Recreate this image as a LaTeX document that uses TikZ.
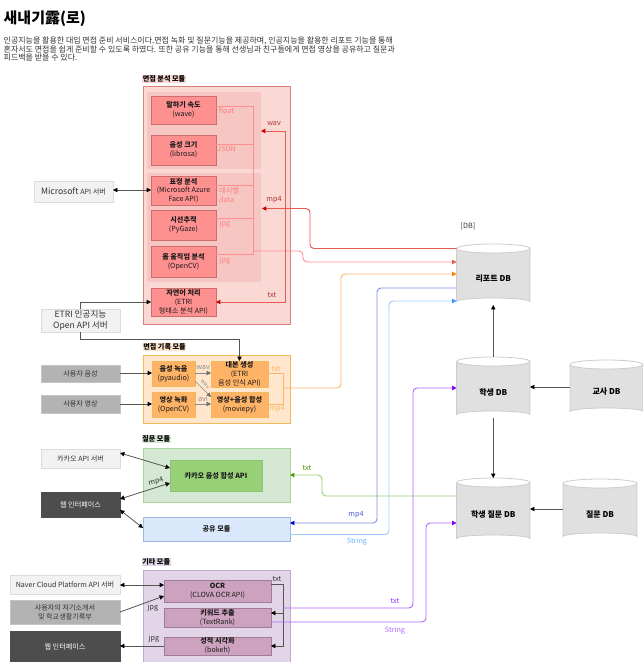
\documentclass[tikz,border=0pt]{standalone}
\usepackage{fontspec}
\setmainfont{Noto Sans CJK KR}
\usetikzlibrary{arrows.meta}
\definecolor{txtc}{HTML}{1A1A1A}
\tikzset{
 x=1pt,y=-1pt,
 bx/.style={inner sep=0pt,outer sep=0pt,align=center,font=\fontsize{7.1}{8.7}\selectfont,text=txtc,line width=.8pt},
 bt/.style={font=\fontsize{8}{10}\selectfont\bfseries},
 lab/.style={inner sep=0pt,font=\fontsize{7.2}{8.4}\selectfont},
 hd/.style={inner sep=.6pt,anchor=west,font=\fontsize{7.1}{8}\selectfont\bfseries,text=black},
 mR/.style={bx,fill=rmodf,draw=rmods},
 gR/.style={bx,fill=rgrp},
 bR/.style={bx,fill=rbox,draw=rboxs},
 mO/.style={bx,fill=omodf,draw=omods},
 bO/.style={bx,fill=obox,draw=omods},
 mG/.style={bx,fill=gmodf,draw=gmods},
 bG/.style={bx,fill=gbox,draw=gboxs},
 mB/.style={bx,fill=bmodf,draw=bmods},
 mP/.style={bx,fill=pmodf,draw=pmods},
 bP/.style={bx,fill=pbox,draw=pboxs},
 lg/.style={bx,fill=lgf,draw=lgs,text=dgt},
 lgb/.style={lg,font=\fontsize{8.6}{10.6}\selectfont},
 mg/.style={bx,fill=mgf,draw=mgs,text=dgt},
 dk/.style={bx,fill=dkf,draw=dkf,text=white},
 tip/.style={-{Triangle[length=4.4pt,width=4.4pt,color=#1,fill=#1]}},
 tips/.style={{Triangle[length=4.4pt,width=4.4pt,color=black,fill=black]}-{Triangle[length=4.4pt,width=4.4pt,color=black,fill=black]}},
 ga/.style={draw=arrg,line width=.8pt,tip=black},
 gb/.style={draw=arrg,line width=.8pt,tips},
 gl/.style={draw=lgarr,line width=.7pt,tip=lgarrt},
 con/.style={line width=.95pt,rounded corners=4pt},
}
\definecolor{rmodf}{HTML}{FAD9D5}\definecolor{rmods}{HTML}{D9827A}
\definecolor{rgrp}{HTML}{F5C6C2}\definecolor{rbox}{HTML}{FF9090}\definecolor{rboxs}{HTML}{CC6E6E}
\definecolor{omodf}{HTML}{FFE6CC}\definecolor{omods}{HTML}{F0B95A}\definecolor{obox}{HTML}{FFB366}
\definecolor{gmodf}{HTML}{D5E8D4}\definecolor{gmods}{HTML}{A9D59B}\definecolor{gbox}{HTML}{97D077}\definecolor{gboxs}{HTML}{8CC277}
\definecolor{bmodf}{HTML}{DAE8FC}\definecolor{bmods}{HTML}{9DB8DE}
\definecolor{pmodf}{HTML}{E1D5E7}\definecolor{pmods}{HTML}{C3A9D0}\definecolor{pbox}{HTML}{CDA2BE}\definecolor{pboxs}{HTML}{A07A96}
\definecolor{lgf}{HTML}{F2F2F2}\definecolor{lgs}{HTML}{DCDCDC}\definecolor{mgf}{HTML}{B3B3B3}\definecolor{mgs}{HTML}{C4C4C4}
\definecolor{dkf}{HTML}{4D4D4D}\definecolor{dgt}{HTML}{333333}\definecolor{arrg}{HTML}{555555}
\definecolor{lgarr}{HTML}{8A8A8A}\definecolor{lgarrt}{HTML}{707070}
\definecolor{pinkl}{HTML}{FF8F8F}\definecolor{pinkt}{HTML}{FF8080}\definecolor{redl}{HTML}{EA5A55}\definecolor{redt}{HTML}{D00000}\definecolor{redx}{HTML}{B03030}
\definecolor{orgl}{HTML}{FFB366}\definecolor{orgt}{HTML}{FF8000}
\definecolor{bluel}{HTML}{7F8FE6}\definecolor{bluet}{HTML}{0000CC}\definecolor{bluex}{HTML}{4D5BD1}
\definecolor{skyl}{HTML}{99CCFF}\definecolor{skyt}{HTML}{3399FF}\definecolor{skyx}{HTML}{66B2FF}
\definecolor{grnl}{HTML}{97D077}\definecolor{grnt}{HTML}{4D9900}
\definecolor{purl}{HTML}{B266FF}\definecolor{purt}{HTML}{7F00FF}\definecolor{purx}{HTML}{9933FF}
\definecolor{dbf}{HTML}{E0E0E0}\definecolor{dbs}{HTML}{CCCCCC}
\newcommand\bxx[7]{\node[#2,minimum width={(#5-#3)*1pt},minimum height={(#6-#4)*1pt}] (#1) at ({(#3+#5)/2},{(#4+#6)/2}) {#7};}
\newcommand\dbc[6]{%
 \node[bx,minimum width={(#4-#2)*1pt},minimum height={(#5-#3)*1pt}] (#1) at ({(#2+#4)/2},{(#3+#5)/2}) {};
 \fill[dbf,draw=dbs,line width=.8pt] (#2,#3+4.5) -- (#2,#5-3.5) arc[x radius={(#4-#2)/2},y radius=3.5,start angle=180,end angle=360,] -- (#4,#3+4.5) arc[x radius={(#4-#2)/2},y radius=4.5,start angle=0,end angle=180];
 \draw[dbs,line width=.8pt] (#2,#3+4.5) arc[x radius={(#4-#2)/2},y radius=4.5,start angle=180,end angle=360];
 \node[bx,bt,text=black] (#1t) at ({(#2+#4)/2},{(#3+#5)/2+4.5}) {#6};}
\begin{document}
\begin{tikzpicture}
\useasboundingbox (0,0) rectangle (643,662);
\fill[white] (0,0) rectangle (643,662);
% title & text
\node[inner sep=0pt,anchor=west,font=\fontsize{15}{16}\selectfont\bfseries,text=black] (title) at (3.5,18.5) {새내기露(로)};
\node[inner sep=0pt,anchor=north west,align=left,font=\fontsize{7.98}{8.5}\selectfont,text=dgt] (intro) at (3.5,37) {인공지능을 활용한 대입 면접 준비 서비스이다.면접 녹화 및 질문기능을 제공하며, 인공지능을 활용한 리포트 기능을 통해\\혼자서도 면접을 쉽게 준비할 수 있도록 하였다. 또한 공유 기능을 통해 선생님과 친구들에게 면접 영상을 공유하고 질문과\\피드백을 받을 수 있다.};
% red module
\node[hd,fill=rmodf] (hR) at (142,79) {면접 분석 모듈};
\bxx{mRm}{mR}{143}{86}{290}{324}{}
\bxx{gR1}{gR}{147}{92}{261}{169}{}
\bxx{gR2}{gR}{147}{173}{261}{282}{}
% DBs
\dbc{dbR}{456.5}{244}{530}{305}{리포트 DB}
\dbc{dbS}{456.5}{357}{530}{418}{학생 DB}
\dbc{dbT}{570}{360}{643}{415}{교사 DB}
\dbc{dbQ}{456.5}{478}{530}{542}{학생 질문 DB}
\dbc{dbA}{563}{479}{637}{540}{질문 DB}
\node[lab,text=dgt] (dbl) at (468,226) {[DB]};
% red boxes
\bxx{b1}{bR}{151}{96}{216}{124}{{\bfseries 말하기 속도}\\(wave)}
\bxx{b2}{bR}{151}{135}{216}{165}{{\bfseries 음성 크기}\\(librosa)}
\bxx{b3}{bR}{151}{176}{216}{205}{{\bfseries 표정 분석}\\(Microsoft Azure\\Face API)}
\bxx{b4}{bR}{151}{210}{216}{240}{{\bfseries 시선추적}\\(PyGaze)}
\bxx{b5}{bR}{151}{246}{216}{277}{{\bfseries 몸 움직임 분석}\\(OpenCV)}
\bxx{b6}{bR}{151}{288}{216}{316}{{\bfseries 자연어 처리}\\(ETRI\\형태소 분석 API)}
% pink bus
\coordinate (bus) at (253,251);
\draw[pinkl,line width=.8pt] (b1.east |- 0,106) -| (253,254) -- (b5.east |- 0,254);
\draw[pinkl,line width=.8pt] (b2.east |- 0,144) -- (253,144) (b3.east |- 0,185.5) -- (253,185.5) (b4.east |- 0,218) -- (253,218);
\draw[pinkl,con,tip=redl] (bus) -- (303,251) -- (303,262) -- (dbR.west |- 0,262);
\draw[redl,con,tip=redt] (dbR.west |- 0,248.5) -- (310,248.5) -- (310,208.5) -- (262,208.5);
\coordinate (rt) at (261,131);
\draw[redl,line width=.95pt,tip=redt] (285.5,131) -- (rt);
\draw[redl,line width=.95pt,tip=redt] (285.5,131) -- (285.5,302) -- (b6.east |- 0,302);
\foreach \n/\t/\xx/\yy in {la/float/226.5/111,lb/JSON/226.5/149,lc/jpg/225/224,ld/jpg/225/261} \node[lab,text=pinkt] (\n) at (\xx,\yy) {\t};
\node[lab,text=pinkt,align=left,anchor=west] (le) at (219,195) {데시벨\\data};
\node[lab,text=redx] (lw) at (274,124) {wav};
\node[lab,text=redx] (lm) at (274,200) {mp4};
\node[lab,text=redx] (lt) at (272,295) {txt};
% ext boxes top
\bxx{ms}{lg}{34}{181}{113}{202}{\fontsize{8.6}{10}\selectfont Microsoft {\fontsize{7.1}{8}\selectfont API 서버}}
\bxx{etri}{lgb}{41}{309}{120}{332}{ETRI 인공지능\\Open API 서버}
\draw[gb] (ms.east |- 0,190) -- (b3.west |- 0,190);
\draw[ga] (etri.north) |- (b6.west |- 0,302);
% orange module
\node[hd,fill=omodf] (hO) at (142.5,347) {면접 기록 모듈};
\bxx{mOm}{mO}{143}{355}{290}{423}{}
\bxx{o1}{bO}{152}{361}{195}{386}{{\bfseries 음성 녹음}\\(pyaudio)}
\bxx{o2}{bO}{211}{361}{268}{387}{{\bfseries 대본 생성}\\(ETRI\\음성 인식 API)}
\bxx{o3}{bO}{152}{392}{195}{417}{{\bfseries 영상 녹화}\\(OpenCV)}
\bxx{o4}{bO}{211}{392}{268}{417}{{\bfseries 영상+음성 합성}\\(moviepy)}
\bxx{u1}{mg}{41}{365}{120}{382}{사용자 음성}
\bxx{u2}{mg}{41}{395}{120}{413}{사용자 영상}
\draw[ga] (u1.east |- 0,373) -- (o1.west |- 0,373);
\draw[ga] (u2.east |- 0,404) -- (o3.west |- 0,404);
\draw[ga] (etri.south) |- (o2.north |- 0,339) -- (o2.north);
\draw[gl] (o1.east |- 0,373) -- (o2.west |- 0,373);
\draw[gl] (o3.east |- 0,404) -- (o4.west |- 0,404);
\draw[gl] (o1.east |- 0,381) -- (o4.west |- 0,397);
\node[lab,text=lgarr] (lwv) at (203,367.5) {wav};
\node[lab,text=lgarr] (lav) at (203,399) {avi};
\node[lab,text=lgarr,rotate=-45,font=\fontsize{5.5}{6}\selectfont] (lwd) at (205,384.5) {wav};
\draw[orgl,line width=.95pt] (o2.east |- 0,373) -- (283.5,373) -- (283.5,404) -- (o4.east |- 0,404);
\draw[orgl,con,tip=orgt] (283.5,388) -- (341,388) -- (341,274) -- (dbR.west |- 0,274);
\node[lab,text=orgl] (lox) at (276,369) {txt};
\node[lab,text=orgl] (lom) at (277,409) {mp4};
% green module
\node[hd,fill=gmodf] (hG) at (141.5,439) {질문 모듈};
\bxx{mGm}{mG}{143}{448}{290}{502}{}
\bxx{kk}{bG}{170}{460}{262}{491}{\bfseries 카카오 음성 합성 API}
\bxx{kas}{lg}{41}{449}{120}{468}{카카오 API 서버}
\bxx{web}{dk}{41}{492}{120}{517}{웹 인터페이스}
\bxx{sh}{mB}{143}{517}{290}{541}{\bfseries 공유 모듈}
\draw[gb] (kas.east |- 0,453) -- (kk.west |- 0,468);
\draw[gb] (kk.west |- 0,483) -- (web.east |- 0,499);
\draw[gb] (web.east |- 0,510) -- (sh.west |- 0,528);
\node[lab,text=dgt,rotate=15] (lkm) at (156,481.5) {mp4};
\draw[grnl,con,tip=grnt] (dbQ.west |- 0,496) -- (322,496) -- (322,475) -- (mGm.east |- 0,475);
\node[lab,text=grnt] (lgt) at (307,468) {txt};
% blue
\draw[bluel,con,tip=bluet] (dbR.west |- 0,288) -- (377,288) -- (377,523) -- (sh.east |- 0,523);
\draw[skyl,con,tip=skyt] (sh.east |- 0,534.5) -- (389,534.5) -- (389,301) -- (dbR.west |- 0,301);
\node[lab,text=bluex] (lbm) at (356,515) {mp4};
\node[lab,text=skyx] (lbs) at (357,542) {String};
% purple module
\node[hd,fill=pmodf] (hP) at (141.5,562) {기타 모듈};
\bxx{mPm}{mP}{143}{570}{290}{662}{}
\bxx{p1}{bP}{164}{580}{271}{602}{{\bfseries OCR}\\(CLOVA OCR API)}
\bxx{p2}{bP}{164}{608}{271}{627}{{\bfseries 키워드 추출}\\(TextRank)}
\bxx{p3}{bP}{164}{637}{271}{655}{{\bfseries 성적 시각화}\\(bokeh)}
\bxx{nv}{lg}{10}{575}{120}{594}{Naver Cloud Platform API 서버}
\bxx{uu}{mg}{10}{600}{120}{624}{사용자의 자기소개서\\및 학교생활기록부}
\bxx{wb}{dk}{10}{631}{120}{662}{웹 인터페이스}
\draw[gb] (nv.east |- 0,585) -- (p1.west |- 0,585);
\draw[ga] (uu.east |- 0,612) -- (p1.west |- 0,596);
\draw[ga] (p3.west |- 0,646) -- (wb.east |- 0,646);
\draw[arrg,line width=.8pt,tip=black] (p1.east |- 0,584.5) -- (283,584.5) -- (283,646) -- (p3.east |- 0,646);
\draw[ga] (283,613) -- (p2.east |- 0,613);
\node[lab,text=dgt] (lp1) at (153,608) {jpg};
\node[lab,text=dgt] (lp2) at (154,639) {jpg};
\node[lab,text=dgt] (lp3) at (277,579) {txt};
% purple connectors
\draw[purl,con,tip=purt] (283,608) -- (413,608) -- (413,388) -- (dbS.west |- 0,388);
\draw[purl,con,tip=purt] (p2.east |- 0,622) -- (426,622) -- (426,523) -- (dbQ.west |- 0,523);
\node[lab,text=purx] (lpt) at (395,601) {txt};
\node[lab,text=purl] (lps) at (395,631) {String};
% DB arrows
\draw[ga] (dbS.north) -- (dbR.south);
\draw[ga] (dbT.west |- 0,387) -- (dbS.east |- 0,387);
\draw[ga] (dbS.south) -- (dbQ.north);
\draw[ga] (dbA.west |- 0,509) -- (dbQ.east |- 0,509);
\end{tikzpicture}
\end{document}
